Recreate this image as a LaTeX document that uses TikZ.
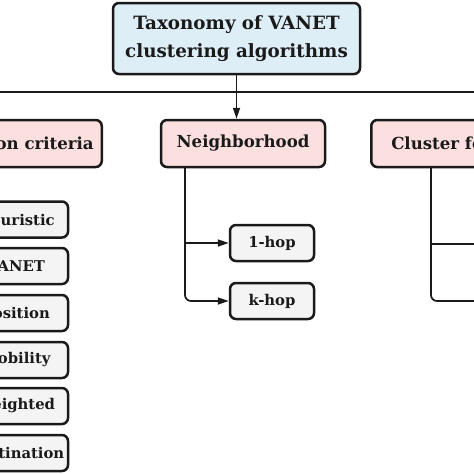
\documentclass[tikz,border=0pt]{standalone}
\usepackage{fontspec}
\setmainfont{DejaVu Serif}
\usetikzlibrary{arrows.meta}
\definecolor{topfill}{HTML}{DDEEF7}
\definecolor{catfill}{HTML}{FCE0DF}
\definecolor{leaffill}{HTML}{F4F4F4}
\definecolor{ink}{HTML}{1A1A1A}
\tikzset{
  box/.style={draw=ink, line width=2.5pt, rounded corners=6pt, inner sep=0pt, align=center, text=ink},
  topbox/.style={box, fill=topfill, minimum width=247pt, minimum height=71pt, font=\bfseries\fontsize{18.3}{28}\selectfont},
  catbox/.style={box, fill=catfill, minimum height=47pt, font=\bfseries\fontsize{16.6}{25}\selectfont},
  leafbox/.style={box, fill=leaffill, minimum height=36pt, font=\bfseries\fontsize{14.8}{22}\selectfont},
  conn/.style={draw=ink, line width=1.7pt},
  arr/.style={conn, -{Triangle[length=11pt,width=7pt]}},
}
\begin{document}
\begin{tikzpicture}[x=1pt,y=-1pt]
\useasboundingbox (0,0) rectangle (474,474);
\clip (0,0) rectangle (474,474);
\node[topbox] (top) at (236.5,38.5) {Taxonomy of VANET\\clustering algorithms};
\node[catbox, anchor=east, inner xsep=8pt] (sel) at (103,143.5) {Selection criteria};
\node[catbox, minimum width=164pt] (nbh) at (243,143.5) {Neighborhood};
\node[catbox, anchor=west, inner xsep=20pt] (cf) at (370,143.5) {Cluster formation};
\node[leafbox, minimum width=84pt] (h1) at (272,243) {1-hop};
\node[leafbox, minimum width=84pt] (hk) at (272,301) {k-hop};
\foreach \t/\y/\n in {Heuristic/219.5/l1, VANET/266/l2, Position/313/l3, Mobility/360/l4, Weighted/406/l5, Destination/453/l6}
  \node[leafbox, minimum width=104pt] (\n) at (16,\y) {\t};
\coordinate (hl) at (-200,92);
\coordinate (hr) at (680,92);
\draw[conn] (hl) -- (hr);
\draw[arr] (top.south) -- (top.south |- nbh.north);
\coordinate (nv) at (185,167);
\draw[arr] (nv |- h1.west) -- (h1.west);
\draw[arr, rounded corners=6pt] (nv) |- (hk.west);
\coordinate (cv) at (431,167);
\coordinate (cr1) at (620,244);
\coordinate (cr2) at (620,301);
\draw[arr] (cv |- cr1) -- (cr1);
\draw[arr, rounded corners=6pt] (cv) |- (cr2);
\end{tikzpicture}
\end{document}
